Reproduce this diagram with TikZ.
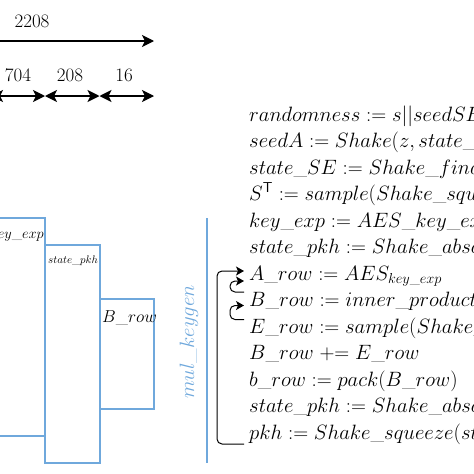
\documentclass[tikz,border=0pt]{standalone}
\usepackage{amsmath}
\usetikzlibrary{arrows.meta,calc}
\definecolor{boxblue}{RGB}{111,168,220}
\begin{document}
\begin{tikzpicture}[x=1pt,y=-1pt,
  dimarrow/.style={line width=1.3pt,-{Stealth[length=12pt,width=12pt,inset=3pt]}},
  dimboth/.style={line width=1.3pt,{Stealth[length=12pt,width=12pt,inset=3pt]}-{Stealth[length=12pt,width=12pt,inset=3pt]}},
  looparrow/.style={line width=1pt,rounded corners=5pt,-{Stealth[length=8pt,width=9pt,inset=2pt]}},
  membox/.style={draw=boxblue,line width=2.6pt},
  bigtxt/.style={font=\fontsize{19}{23}\selectfont,inner sep=0pt},
  codeline/.style={font=\fontsize{19.5}{24}\selectfont,inner sep=0pt,anchor=base west},
  lbl/.style={inner sep=0pt}]
\useasboundingbox (0,0) rectangle (474,474);
% size arrows
\coordinate (topstart) at (-300,41);
\coordinate (topend) at (154,41);
\draw[dimarrow] (topstart) -- (topend);
\node[bigtxt] (t2208) at (32,21) {2208};
\coordinate (s0) at (-9,96);
\coordinate (s1) at (45,96);
\coordinate (s2) at (99.5,96);
\coordinate (s3) at (154,96);
\draw[dimboth] (s0) -- (s1);
\draw[dimboth] (s1) -- (s2);
\draw[dimboth] (s2) -- (s3);
\node[bigtxt] (t704) at (18,75) {704};
\node[bigtxt] (t208) at (70,75) {208};
\node[bigtxt] (t16) at (124,75) {16};
% memory boxes
\draw[membox] (-60,218) rectangle (45,436);
\node[lbl,anchor=north east,font=\fontsize{15}{18}\selectfont] (lkey) at (44,228) {$key\_exp$};
\draw[membox] (45,245) rectangle (100,463);
\node[lbl,anchor=north west,font=\fontsize{10.5}{13}\selectfont] (lpkh) at (48,256) {$state\_pkh$};
\draw[membox] (100,299) rectangle (154,409);
\node[lbl,anchor=north west,font=\fontsize{17.5}{21}\selectfont] (lbrow) at (102,310) {$B\_row$};
% separator
\draw[draw=boxblue,line width=2.2pt] (207,218) -- (207,463);
\node[lbl,rotate=90,text=boxblue,font=\fontsize{21}{25}\selectfont] (mk) at (189,342) {$mul\_keygen$};
% code lines
\node[codeline] (c1) at (249,121) {$randomness := s||seedSE||z$};
\node[codeline] (c2) at (249,147.5) {$seedA := Shake(z, state\_z)$};
\node[codeline] (c3) at (249,174) {$state\_SE := Shake\_finalize$};
\node[codeline] (c4) at (249,200.5) {$S^{\mathsf{T}} := sample(Shake\_squeeze$};
\node[codeline] (c5) at (249,227) {$key\_exp := AES\_key\_expand$};
\node[codeline] (c6) at (249,253.5) {$state\_pkh := Shake\_absorb$};
\node[codeline] (c7) at (249,280) {$A\_row := AES_{key\_exp}$};
\node[codeline] (c8) at (249,306.5) {$B\_row := inner\_product(A$};
\node[codeline] (c9) at (249,333) {$E\_row := sample(Shake\_s$};
\node[codeline] (c10) at (249,359.5) {$B\_row \mathrel{+}= E\_row$};
\node[codeline] (c11) at (249,386) {$b\_row := pack(B\_row)$};
\node[codeline] (c12) at (249,412.5) {$state\_pkh := Shake\_absorb$};
\node[codeline] (c13) at (249,439) {$pkh := Shake\_squeeze(state$};
% loops
\coordinate (o1) at ([xshift=-5pt,yshift=-5pt]c13.base west);
\coordinate (o2) at ([xshift=-5pt,yshift=9pt]c7.base west);
\draw[looparrow] (o1) -| (217,271) -- (o2);
\coordinate (i1) at ([xshift=-5pt,yshift=-12pt]c7.base west);
\coordinate (i2) at ([xshift=-5pt,yshift=-1pt]c7.base west);
\draw[looparrow] (i1) -| (230,281) -- (i2);
\coordinate (j1) at ([xshift=-5pt,yshift=-13pt]c8.base west);
\coordinate (j2) at ([xshift=-5pt,yshift=1pt]c8.base west);
\draw[looparrow] (j1) -| (230,305.5) -- (j2);
\end{tikzpicture}
\end{document}
